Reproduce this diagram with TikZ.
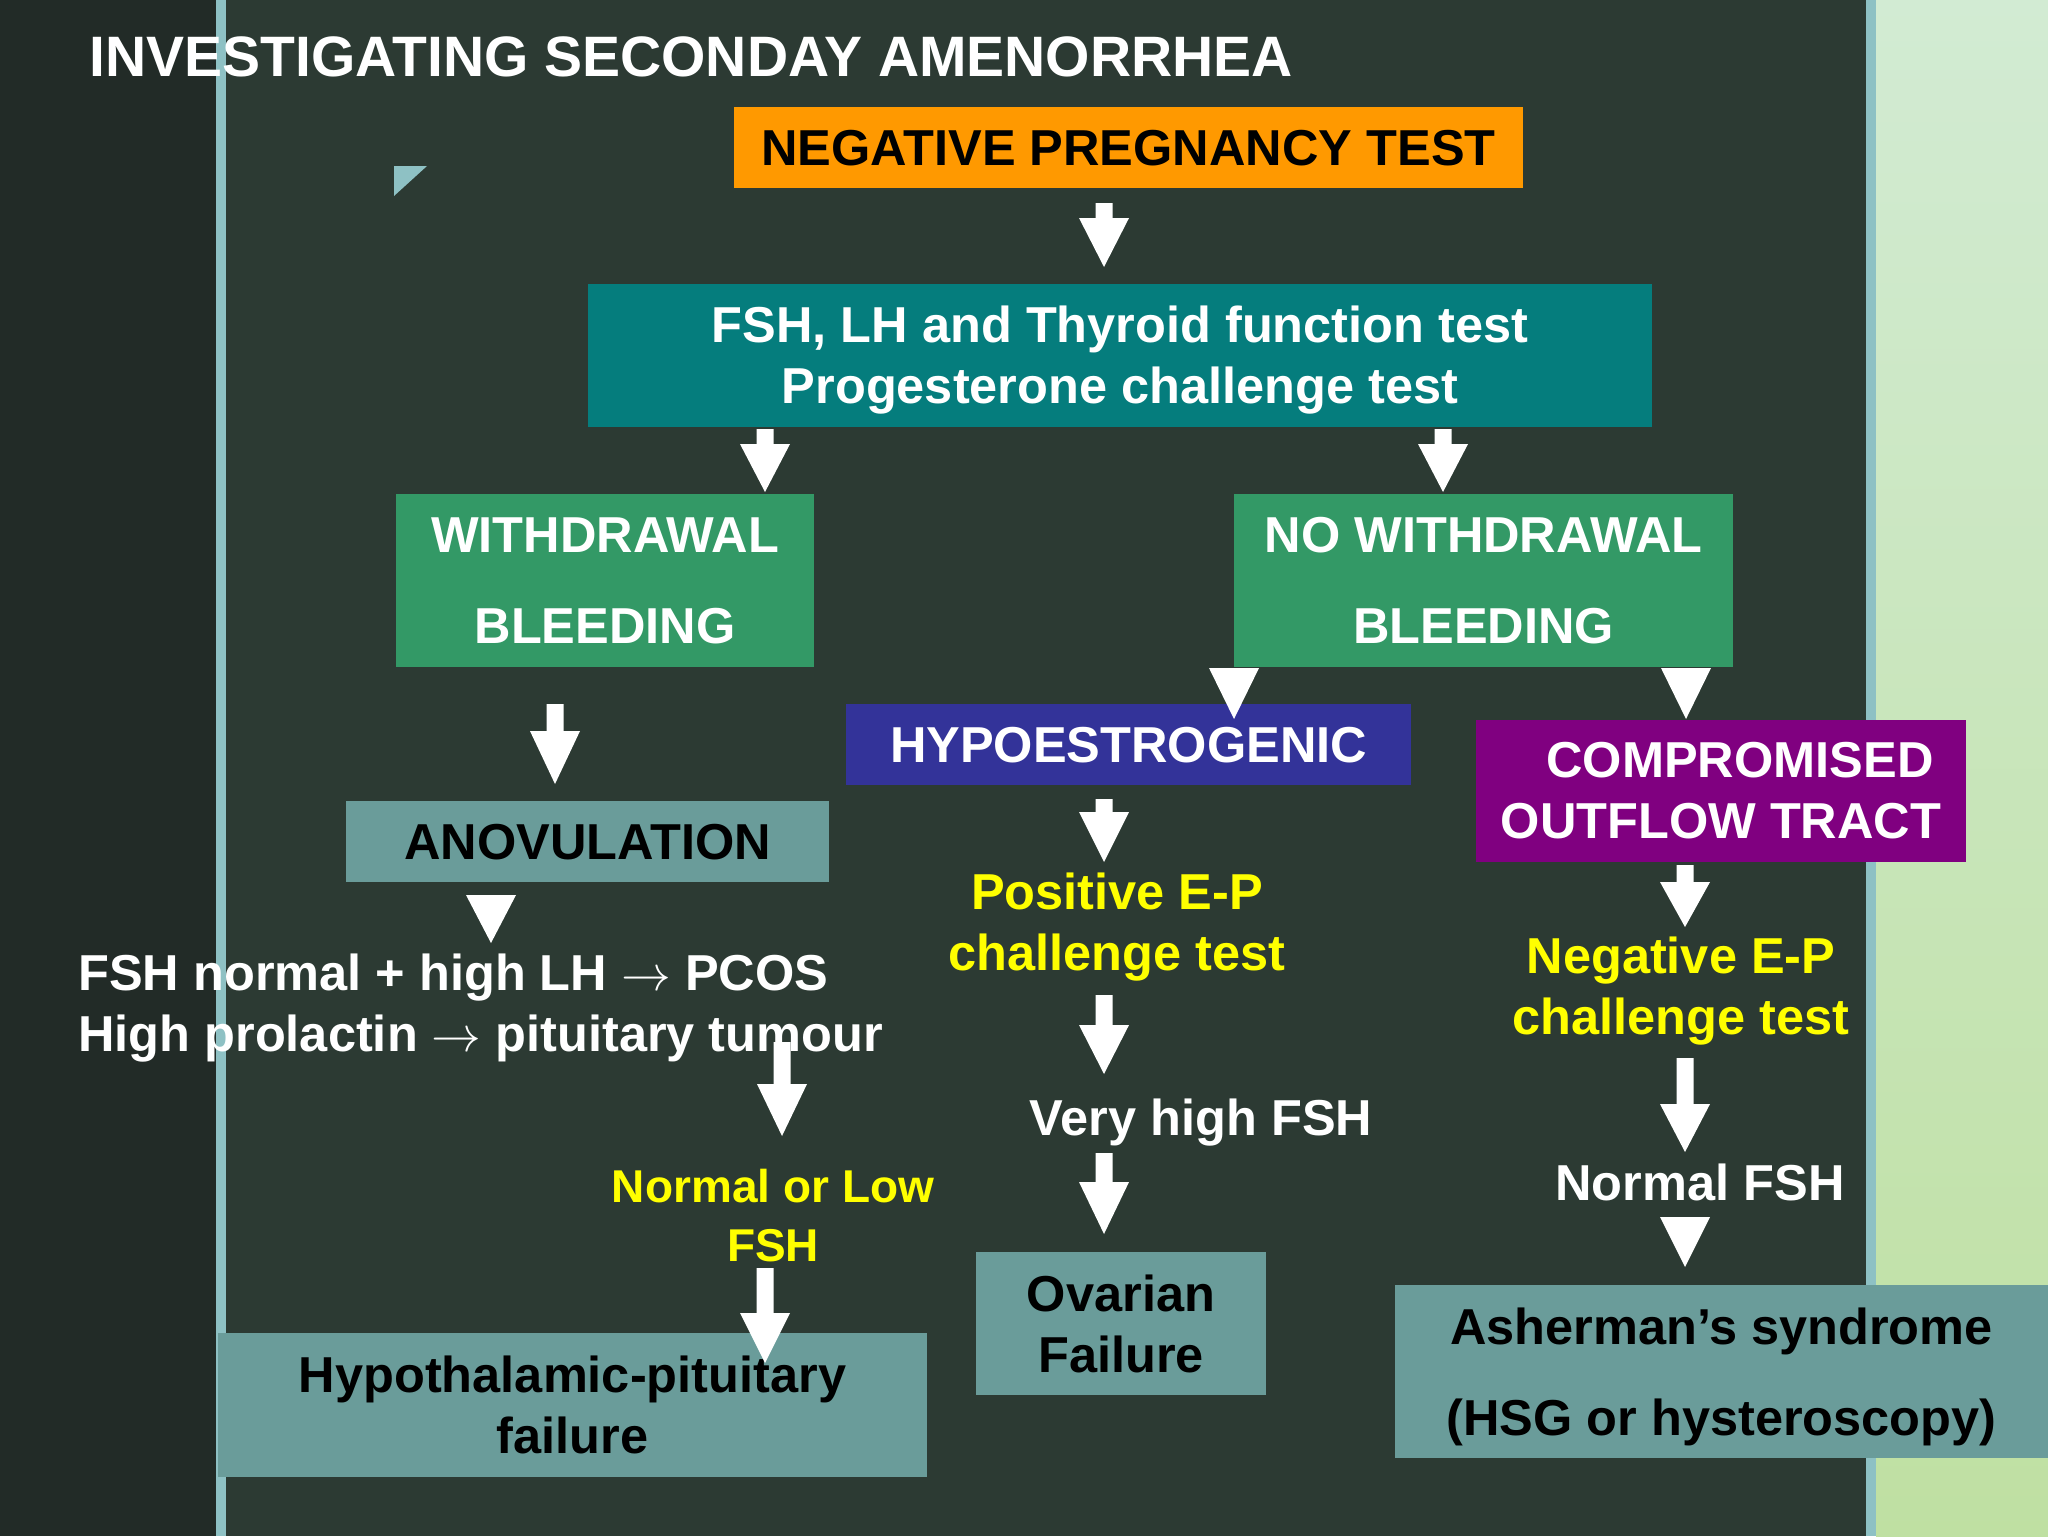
\documentclass[tikz,border=0pt]{standalone}
\usepackage{fontspec}
\setmainfont{Liberation Sans}
\usetikzlibrary{fit}
\definecolor{cLeft}{HTML}{222B27}
\definecolor{cMain}{HTML}{2C3A33}
\definecolor{cLine}{HTML}{8EC1C4}
\definecolor{cGreenTop}{HTML}{D2EBD3}
\definecolor{cGreenBot}{HTML}{BFE0A2}
\definecolor{cOrange}{HTML}{FF9900}
\definecolor{cTeal}{HTML}{057D7D}
\definecolor{cGreen}{HTML}{339966}
\definecolor{cBlue}{HTML}{333399}
\definecolor{cPurple}{HTML}{800080}
\definecolor{cGrey}{HTML}{6A9C9A}
\definecolor{cYellow}{HTML}{FFFF00}
\newcommand\blockarr[4]{\fill[white] ({#1-8.5},#2) -- ({#1+8.5},#2) -- ({#1+8.5},#3) -- ({#1+25},#3) -- (#1,#4) -- ({#1-25},#3) -- ({#1-8.5},#3) -- cycle;}
\newcommand\triarr[3]{\fill[white] ({#1-25},#2) -- ({#1+25},#2) -- (#1,#3) -- cycle;}
\tikzset{
  txt/.style={font=\fontsize{25.25}{30.5}\selectfont\bfseries, inner sep=0pt, align=center},
  wide/.style={font=\fontsize{25.25}{45.5}\selectfont\bfseries},
  boxn/.style={inner sep=0pt, draw=none},
}
\begin{document}
\begin{tikzpicture}[x=0.5pt,y=-0.5pt]
\useasboundingbox (0,0) rectangle (2048,1536);
% background
\fill[cMain] (0,0) rectangle (2048,1536);
\fill[cLeft] (0,0) rectangle (216,1536);
\fill[cLine] (216,0) rectangle (226,1536);
\fill[cLine] (1866,0) rectangle (1876,1536);
\shade[top color=cGreenTop, bottom color=cGreenBot] (1876,0) rectangle (2048,1536);
\fill[cLine] (394,166) -- (427,166) -- (394,196) -- cycle;

% title
\node[txt, white, anchor=base west, font=\fontsize{28.5}{34}\selectfont\bfseries] (title) at (89,76) {INVESTIGATING SECONDAY AMENORRHEA};

% boxes
\node[boxn, fill=cOrange, fit={(734,107)(1523,188)}] (neg) {};
\node[boxn, fill=cTeal, fit={(588,284)(1652,427)}] (tests) {};
\node[boxn, fill=cGreen, fit={(396,494)(814,667)}] (wb) {};
\node[boxn, fill=cGreen, fit={(1234,494)(1733,667)}] (nwb) {};
\node[boxn, fill=cBlue, fit={(846,704)(1411,785)}] (hypo) {};
\node[boxn, fill=cPurple, fit={(1476,720)(1966,862)}] (comp) {};
\node[boxn, fill=cGrey, fit={(346,801)(829,882)}] (anov) {};
\node[boxn, fill=cGrey, fit={(218,1333)(927,1477)}] (hpf) {};
\node[boxn, fill=cGrey, fit={(976,1252)(1266,1395)}] (ovf) {};
\node[boxn, fill=cGrey, fit={(1395,1285)(2048,1458)}] (ash) {};

% box texts
\node[txt, text=black, anchor=base] (negt) at ([yshift=-9.2pt]neg.center) {NEGATIVE PREGNANCY TEST};
\node[txt, text=white] (testst) at ([yshift=-2.5pt]tests.center) {FSH, LH and Thyroid function test\\Progesterone challenge test};
\node[txt, wide, text=white] (wbt) at (wb.center) {WITHDRAWAL\\BLEEDING};
\node[txt, wide, text=white] (nwbt) at (nwb.center) {NO WITHDRAWAL\\BLEEDING};
\node[txt, text=white, anchor=base] (hypot) at ([yshift=-9.2pt]hypo.center) {HYPOESTROGENIC};
\node[txt, text=white] (compt) at (comp.center) {\hspace*{19pt}COMPROMISED\\OUTFLOW TRACT};
\node[txt, text=black, anchor=base] (anovt) at ([yshift=-9.2pt]anov.center) {ANOVULATION};
\node[txt, text=black] (hpft) at (hpf.center) {Hypothalamic-pituitary\\failure};
\node[txt, text=black] (ovft) at (ovf.center) {Ovarian\\Failure};
\node[txt, wide, text=black] (asht) at ([yshift=-2.5pt]ash.center) {Asherman’s syndrome\\(HSG or hysteroscopy)};

% free texts
\node[txt, white, align=left, anchor=west] (pcos) at (78,1008) {FSH normal + high LH $\rightarrow$ PCOS\\High prolactin $\rightarrow$ pituitary tumour};
\node[txt, text=cYellow, font=\fontsize{23}{29.5}\selectfont\bfseries] (nlf) at (773,1216) {Normal or Low\\FSH};
\node[txt, text=cYellow] (pep) at (1117,927) {Positive E-P\\challenge test};
\node[txt, white] (vhf) at (1201,1123) {Very high FSH};
\node[txt, text=cYellow] (nep) at (1681,991) {Negative E-P\\challenge test};
\node[txt, white] (nfsh) at (1700,1182) {Normal FSH};

% arrows
\blockarr{1104}{203}{218}{267}
\blockarr{765}{429}{444}{492}
\blockarr{1443}{429}{444}{492}
\blockarr{555}{704}{731}{784}
\triarr{491}{895}{943}
\triarr{1234}{668}{719}
\triarr{1686}{668}{719}
\blockarr{782}{1042}{1084}{1136}
\blockarr{765}{1268}{1313}{1363}
\blockarr{1104}{799}{812}{862}
\blockarr{1104}{995}{1025}{1074}
\blockarr{1104}{1153}{1182}{1234}
\blockarr{1685}{865}{882}{927}
\blockarr{1685}{1058}{1104}{1152}
\triarr{1685}{1217}{1267}
\end{tikzpicture}
\end{document}
